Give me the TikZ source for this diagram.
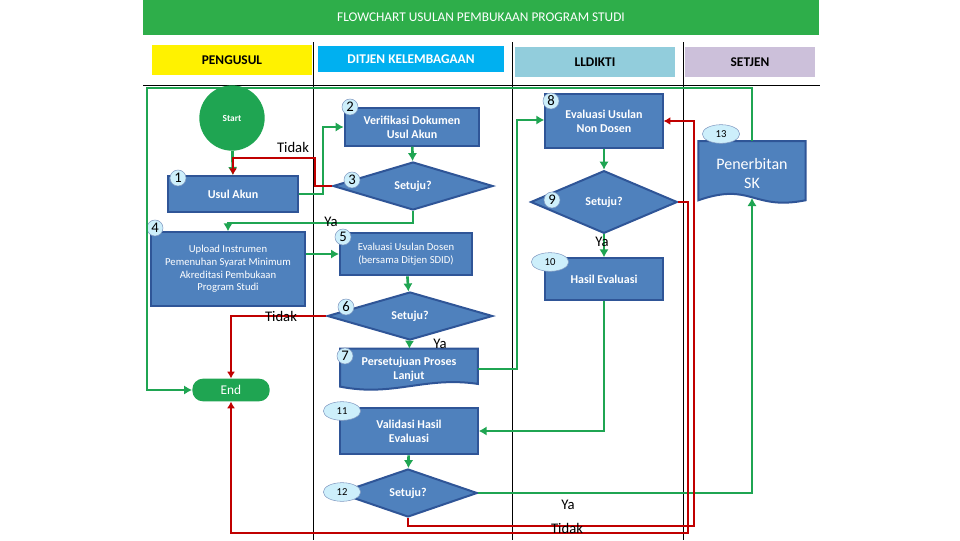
\documentclass[tikz,border=0pt]{standalone}
\usepackage{fontspec}
\setmainfont{Carlito}
\usetikzlibrary{shapes.geometric,arrows.meta}
\definecolor{boxblue}{HTML}{4F81BD}
\definecolor{boxline}{HTML}{2F5597}
\definecolor{flowgreen}{HTML}{1FA552}
\definecolor{flowred}{HTML}{C00000}
\definecolor{badge}{HTML}{CDEFFB}
\definecolor{titlegreen}{HTML}{2EAE4A}
\tikzset{
  x=0.75pt, y=-0.75pt,
  box/.style={draw=boxline, line width=1.5pt, fill=boxblue, text=white, align=center, inner sep=1pt, font=\fontsize{9}{10.5}\selectfont\bfseries},
  dec/.style={diamond, aspect=3.3, draw=boxline, line width=1.5pt, fill=boxblue, text=white, inner sep=1pt, font=\fontsize{9}{10}\selectfont\bfseries},
  num/.style={circle, draw=boxline!60, fill=badge, inner sep=0pt, minimum size=12pt, font=\fontsize{11}{11}\selectfont},
  numo/.style={ellipse, draw=boxline!60, fill=badge, inner sep=0pt, minimum width=28pt, minimum height=14pt, font=\fontsize{8}{8}\selectfont},
  g/.style={draw=flowgreen, line width=2pt},
  ga/.style={g, -{Latex[length=6pt,width=7pt]}},
  r/.style={draw=flowred, line width=2pt},
  ra/.style={r, -{Latex[length=5pt,width=6pt]}},
  lbl/.style={font=\fontsize{11}{11}\selectfont},
  hdr/.style={minimum height=22pt, font=\fontsize{10}{10}\selectfont\bfseries},
}
\begin{document}
\begin{tikzpicture}
\useasboundingbox (0,0) rectangle (960,540);
% title and lanes
\node[fill=titlegreen, text=white, minimum width=507pt, minimum height=26pt, font=\fontsize{10}{10}\selectfont] (title) at (481,17.5) {FLOWCHART USULAN PEMBUKAAN PROGRAM STUDI};
\node[hdr, fill=yellow, minimum width=120pt] (h1) at (232,60) {PENGUSUL};
\node[hdr, fill={rgb,255:red,0;green,176;blue,240}, text=white, minimum width=140pt, minimum height=20pt] (h2) at (411,59) {DITJEN KELEMBAGAAN};
\node[hdr, fill={rgb,255:red,146;green,205;blue,220}, minimum width=120pt] (h3) at (595,62) {LLDIKTI};
\node[hdr, fill={rgb,255:red,204;green,192;blue,218}, minimum width=97pt] (h4) at (750,62) {SETJEN};
\draw[line width=0.6pt] (143,85) -- (820,85);
\draw[line width=0.6pt] (313,42) -- (313,540) (512,42) -- (512,540) (683,42) -- (683,540);

% nodes
\node[circle, fill=flowgreen, text=white, minimum size=49pt, font=\fontsize{7}{7}\selectfont\bfseries] (start) at (232,118) {Start};
\node[box, minimum width=97pt, minimum height=27pt] (n1) at (233,194) {Usul Akun};
\node[box, minimum width=101pt, minimum height=28pt] (n2) at (412,127) {Verifikasi Dokumen\\Usul Akun};
\node[dec, minimum width=120pt, minimum height=36pt] (n3) at (413,186) {Setuju?};
\node[box, minimum width=116pt, minimum height=55pt, font=\fontsize{8}{9.5}\selectfont] (n4) at (228,269) {Upload Instrumen\\Pemenuhan Syarat Minimum\\Akreditasi Pembukaan\\Program Studi};
\node[box, minimum width=99pt, minimum height=32pt, font=\fontsize{8}{9.5}\selectfont] (n5) at (406,254) {Evaluasi Usulan Dosen\\(bersama Ditjen SDID)};
\node[dec, minimum width=124pt, minimum height=36pt] (n6) at (410,316) {Setuju?};
\node[minimum width=103pt, minimum height=30pt] (n7) at (409,369) {};
\node[rounded corners=8pt, fill=flowgreen, text=white, minimum width=58pt, minimum height=17pt, font=\fontsize{10}{10}\selectfont] (end) at (231,390) {End};
\node[box, minimum width=103pt, minimum height=35pt] (n11) at (409,431) {Validasi Hasil\\Evaluasi};
\node[dec, minimum width=104pt, minimum height=36pt] (n12) at (408,493) {Setuju?};
\node[box, minimum width=88pt, minimum height=41pt] (n8) at (604,121) {Evaluasi Usulan\\Non Dosen};
\node[dec, minimum width=110pt, minimum height=47pt] (n9) at (604,202) {Setuju?};
\node[box, minimum width=88pt, minimum height=31pt] (n10) at (604,279) {Hasil Evaluasi};
\node[minimum width=80pt, minimum height=40pt] (n13) at (752,168) {};
% wavy document shapes
\fill[boxblue, draw=boxline, line width=1.5pt] (n7.north west) -- (n7.north east) -- ([yshift=4]n7.south east) .. controls ([xshift=-40,yshift=10]n7.south east) and ([xshift=40,yshift=-6]n7.south west) .. ([yshift=2]n7.south west) -- cycle;
\node[box, draw=none, fill=none] (n7t) at (n7) {Persetujuan Proses\\Lanjut};
\fill[boxblue, draw=boxline, line width=1.5pt] (n13.north west) -- (n13.north east) -- ([yshift=-4]n13.south east) .. controls ([xshift=-40,yshift=-12]n13.south east) and ([xshift=40,yshift=10]n13.south west) .. ([yshift=-4]n13.south west) -- cycle;
\node[box, draw=none, fill=none, font=\fontsize{12}{14}\selectfont] (n13t) at ([yshift=-4]n13) {Penerbitan\\SK};

% badges
\node[num] (b1) at (178,178) {1};
\node[num] (b2) at (350,107) {2};
\node[num] (b3) at (352,180) {3};
\node[num] (b4) at (155,228) {4};
\node[num] (b5) at (343,237) {5};
\node[num] (b6) at (346,307) {6};
\node[num] (b7) at (345,356) {7};
\node[num] (b8) at (551,101) {8};
\node[num] (b9) at (552,200) {9};
\node[numo] (b10) at (550,262) {10};
\node[numo] (b11) at (342,411) {11};
\node[numo] (b12) at (342,492) {12};
\node[numo] (b13) at (721,134) {13};

% connectors
\draw[ga] (start) -- (n1);
\draw[ga] (n1.east) -| (323,127) -- (n2.west);
\draw[ga] (n2) -- (n3);
\draw[ra] (n3.west) -| (315,158) -| (n1.north);
\draw[ga] (n3.south) |- (228,223) -- (n4.north -| 228,0);
\draw[ga] (n4.east |- n5) -- (n5.west);
\draw[ga] (n5) -- (n6);
\draw[ra] (n6.west) -| (end.north);
\draw[ga] (n6) -- (n7);
\draw[ga] (n7.east) -| (517,120) -- (n8.west |- 0,120);
\draw[ga] (n8) -- (n9);
\draw[ga] (n9) -- (n10);
\draw[ga] (n10.south) |- (n11.east);
\draw[ga] (n11) -- (n12);
\draw[ga] (n12.east) -| (752,198);
\draw[ga] (n13.north) |- (147,88) |- (end.west);
\draw[ra] (n12.south) |- (694,526) |- (n8.east);
\draw[ra] (n9.east) -| (688,533) -| (end.south);

% labels
\node[lbl] (t1) at (293,147) {Tidak};
\node[lbl] (y1) at (331,222) {Ya};
\node[lbl] (t2) at (281,316) {Tidak};
\node[lbl] (y2) at (440,344) {Ya};
\node[lbl] (y3) at (602,242) {Ya};
\node[lbl] (y4) at (568,505) {Ya};
\node[lbl] (t3) at (567,528) {Tidak};
\end{tikzpicture}
\end{document}
